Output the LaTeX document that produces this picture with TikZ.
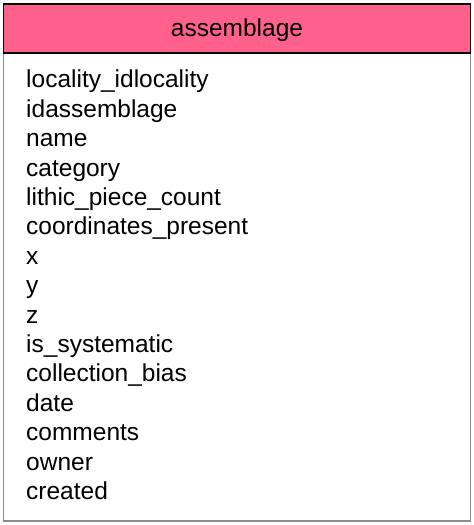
\documentclass[tikz,border=0pt]{standalone}
\usepackage{fontspec}
\setmainfont{Liberation Sans}
\definecolor{headpink}{RGB}{255,96,140}
\definecolor{boxgray}{RGB}{140,140,140}

\begin{document}
\begin{tikzpicture}[x=1pt,y=1pt,
  field/.style={anchor=base west,inner sep=0pt,font=\fontsize{24.5}{28}\selectfont}]
  \useasboundingbox (0,0) rectangle (474,525);

  % body and header
  \draw[boxgray,line width=1.6pt,fill=white] (3.5,4) rectangle (470.5,472);
  \draw[line width=1.3pt,fill=headpink] (3.5,472) rectangle (470.5,521);
  \node[anchor=base,inner sep=0pt,font=\fontsize{24.5}{28}\selectfont] (title) at (237,488.5) {assemblage};

  \foreach \name [count=\i] in {locality\_idlocality,idassemblage,name,category,
      lithic\_piece\_count,coordinates\_present,x,y,z,is\_systematic,
      collection\_bias,date,comments,owner,created}
    \node[field] (f\i) at (26,{437-29.4*(\i-1)}) {\name};
\end{tikzpicture}
\end{document}
